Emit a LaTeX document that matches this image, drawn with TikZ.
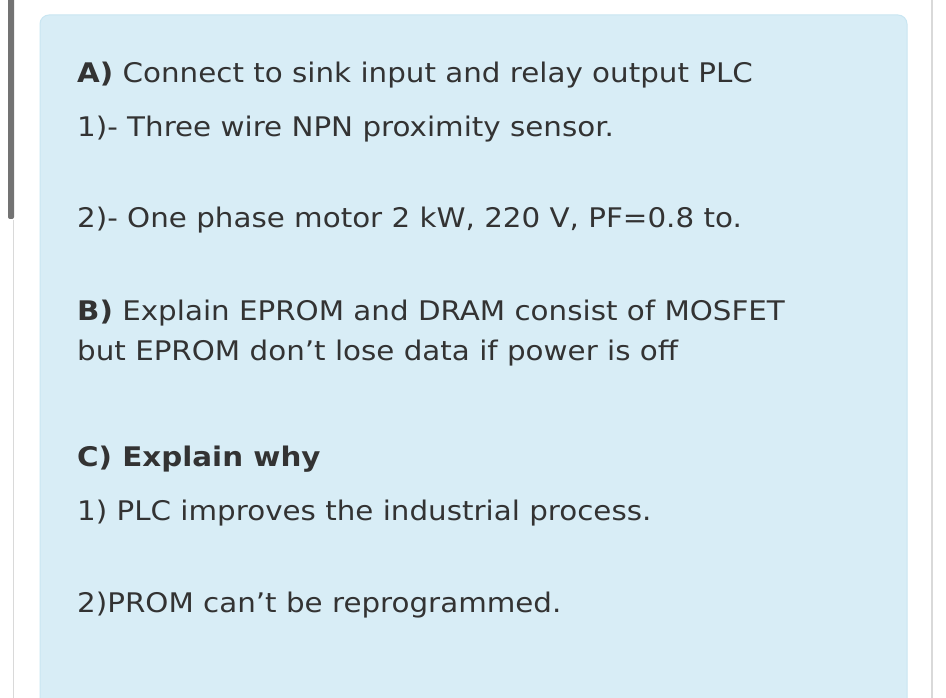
\documentclass[tikz,border=0pt]{standalone}
\usepackage{graphicx}
\usepackage{fontspec}
\setmainfont{DejaVu Sans}
\definecolor{boxfill}{HTML}{D8EDF6}
\definecolor{boxline}{HTML}{C9E6F2}
\definecolor{txt}{HTML}{333333}
\newcommand{\widetxt}[1]{\scalebox{1.087}[1]{#1}}
\begin{document}
\begin{tikzpicture}[x=1pt,y=-1pt,
  t/.style={anchor=base west,inner sep=0,text=txt,font=\fontsize{27}{32}\selectfont}]
\useasboundingbox (0,0) rectangle (946,698);
\fill[white] (0,0) rectangle (946,698);
\draw[black!15,line width=1] (13,220) -- (13,698);
\fill[black!55,rounded corners=2] (8,-3) rectangle (14,219);
\draw[black!15,line width=1.5] (932,0) -- (932,698);
\draw[boxline,fill=boxfill,rounded corners=9,line width=1] (40,710) -- (40,15) -- (907,15) -- (907,710);
\node[t] (a) at (77,83) {\widetxt{\textbf{A)} Connect to sink input and relay output PLC}};
\node[t] (a1) at (77,137) {\widetxt{1)- Three wire NPN proximity sensor.}};
\node[t] (a2) at (77,228) {\widetxt{2)- One phase motor 2 kW, 220 V, PF=0.8 to.}};
\node[t] (b) at (77,320) {\widetxt{\textbf{B)} Explain EPROM and DRAM consist of MOSFET}};
\node[t] (b2) at (77,360) {\widetxt{but EPROM don’t lose data if power is off}};
\node[t] (c) at (77,466) {\widetxt{\textbf{C) Explain why}}};
\node[t] (c1) at (77,520) {\widetxt{1) PLC improves the industrial process.}};
\node[t] (c2) at (77,612) {\widetxt{2)PROM can’t be reprogrammed.}};
\end{tikzpicture}
\end{document}
